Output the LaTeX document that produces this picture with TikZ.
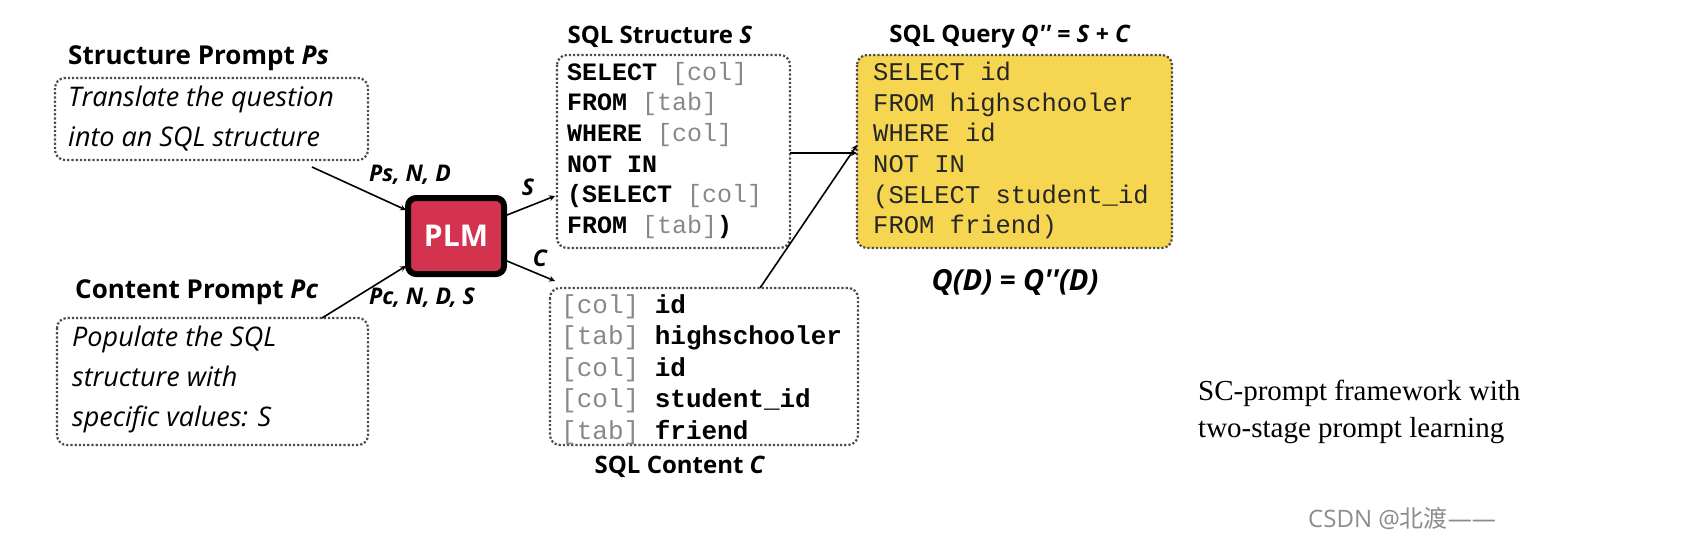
\documentclass[tikz,border=0pt]{standalone}
\usepackage{fontspec}
\setmainfont{Liberation Serif}
\newfontfamily\mysans{Open Sans}
\newfontfamily\mymono{Liberation Mono}
\newfontfamily\cjk{Noto Sans CJK SC}
\definecolor{plmred}{HTML}{D3334F}
\definecolor{qyellow}{HTML}{F6D650}
\definecolor{kw}{HTML}{888888}
\begin{document}
\begin{tikzpicture}[x=1pt,y=-1pt,
  dbox/.style={draw=black!70,dotted,line width=2.2pt,rounded corners=10pt},
  head/.style={font=\mysans\bfseries\fontsize{26}{30}\selectfont,inner sep=0},
  sub/.style={font=\mysans\bfseries\fontsize{24}{28}\selectfont,inner sep=0},
  ital/.style={font=\mysans\itshape\fontsize{27}{40}\selectfont,align=left,anchor=north west,inner sep=0},
  code/.style={align=left,anchor=north west,inner sep=0},
  lab/.style={font=\mysans\bfseries\itshape\fontsize{23}{26}\selectfont,inner sep=0},
  arr/.style={-stealth,line width=1.6pt}]
\useasboundingbox (0,0) rectangle (1696,558);
% prompts
\node[head,anchor=west] (sph) at (68,58) {Structure Prompt \textit{Ps}};
\draw[dbox] (55,78) rectangle (368,160);
\node[ital] (sp) at (68,86) {Translate the question\\into an SQL structure};
\coordinate (spo) at (312,167);
\node[head,anchor=west] (cph) at (75,292) {Content Prompt \textit{Pc}};
\draw[dbox] (57,318) rectangle (368,445);
\node[ital] (cp) at (72,326) {Populate the SQL\\structure with\\specific values: S};
\coordinate (cpo) at (322,318);
% PLM
\node[draw=black,line width=6pt,fill=plmred,rounded corners=8pt,minimum width=96pt,minimum height=76pt,
  font=\mysans\bfseries\fontsize{30}{34}\selectfont,text=white] (plm) at (456,236) {PLM};
\draw[arr] (spo) -- (406,210);
\draw[arr] (cpo) -- (406,266);
\node[lab] at (410,175) {Ps, N, D};
\node[lab] at (422,298) {Pc, N, D, S};
% structure box
\node[sub] (sh) at (660,37) {SQL Structure \textit{S}};
\draw[dbox] (557,55) rectangle (790,248);
\node[code,font=\mymono\fontsize{25}{30.6}\selectfont] (sc) at (567,62) {\textbf{SELECT} \textcolor{kw}{[col]}\\\textbf{FROM} \textcolor{kw}{[tab]}\\\textbf{WHERE} \textcolor{kw}{[col]}\\\textbf{NOT IN}\\\textbf{(SELECT} \textcolor{kw}{[col]}\\\textbf{FROM} \textcolor{kw}{[tab]}\textbf{)}};
% content box
\draw[dbox] (550,288) rectangle (858,445);
\node[code,font=\mymono\fontsize{26}{31.5}\selectfont] (cc) at (561,294) {\textcolor{kw}{[col]} \textbf{id}\\\textcolor{kw}{[tab]} \textbf{highschooler}\\\textcolor{kw}{[col]} \textbf{id}\\\textcolor{kw}{[col]} \textbf{student\_id}\\\textcolor{kw}{[tab]} \textbf{friend}};
\node[sub] (ch) at (680,467) {SQL Content \textit{C}};
\coordinate (cct) at (760,288);
% arrows from PLM
\draw[arr] (507,215) -- (555,196);
\node[lab] at (528,187) {S};
\draw[arr] (507,261) -- (555,281);
\node[lab] at (540,258) {C};
% query
\node[sub] (qh) at (1010,37) {SQL Query \textit{Q'' = S + C}};
\draw[dbox,fill=qyellow] (857,55) rectangle (1172,248);
\node[code,font=\mymono\fontsize{25.5}{30.6}\selectfont,text=black!85] (qc) at (873,62) {SELECT id\\FROM highschooler\\WHERE id\\NOT IN\\(SELECT student\_id\\FROM friend)};
\node[lab,font=\mysans\bfseries\itshape\fontsize{29}{32}\selectfont] (eq) at (1015,282) {Q(D) = Q''(D)};
\draw[arr] (790,153) -- (857,153);
\draw[arr] (cct) -- (857,145);
% caption
\node[align=left,anchor=west,font=\fontsize{29}{37}\selectfont,inner sep=0] (cap) at (1198,412) {SC-prompt framework with\\two-stage prompt learning};
\node[anchor=west,text=black!45,font=\mysans\fontsize{24}{28}\selectfont,inner sep=0] (wm) at (1308,518) {CSDN @{\cjk 北渡}——};
\end{tikzpicture}
\end{document}
